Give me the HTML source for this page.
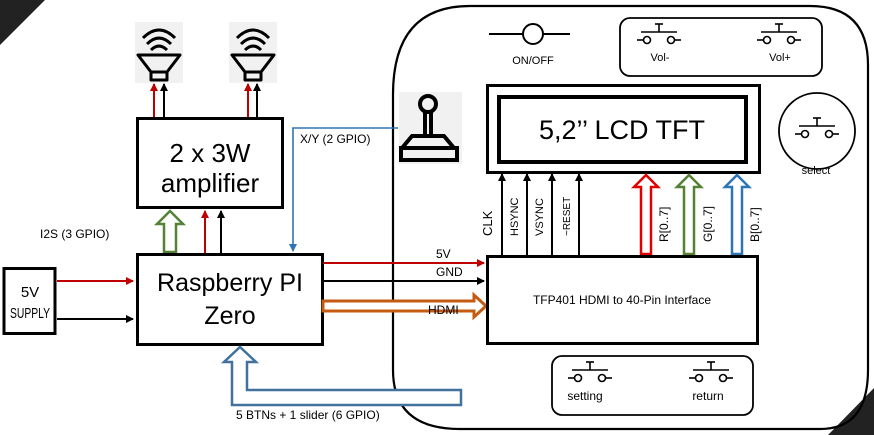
<!DOCTYPE html>
<html><head><meta charset="utf-8"><style>
html,body{margin:0;padding:0;background:#fff;width:874px;height:435px;overflow:hidden}
svg{display:block;font-family:"Liberation Sans",Arial,sans-serif}
</style></head><body>
<svg width="874" height="435" viewBox="0 0 874 435" xmlns="http://www.w3.org/2000/svg">
<defs>
<marker id="ak" markerWidth="8" markerHeight="8" refX="7" refY="4" orient="auto" markerUnits="userSpaceOnUse"><path d="M0,0 L8,4 L0,8 z" fill="#000"/></marker>
<marker id="ar" markerWidth="8" markerHeight="8" refX="7" refY="4" orient="auto" markerUnits="userSpaceOnUse"><path d="M0,0 L8,4 L0,8 z" fill="#c00000"/></marker>
<marker id="ab" markerWidth="8" markerHeight="8" refX="7" refY="4" orient="auto" markerUnits="userSpaceOnUse"><path d="M0,0 L8,4 L0,8 z" fill="#2e75b6"/></marker>
<g id="sw" fill="none" stroke="#000" stroke-width="1.6">
<line x1="-4" y1="0" x2="4" y2="0"/><line x1="0" y1="0" x2="0" y2="8"/><line x1="-18" y1="8" x2="18" y2="8"/>
<circle cx="-12" cy="16" r="3.5" fill="#fff"/><circle cx="12" cy="16" r="3.5" fill="#fff"/>
<line x1="-22" y1="16" x2="-15.5" y2="16"/><line x1="15.5" y1="16" x2="22" y2="16"/>
</g>
<g id="spk">
<rect x="0" y="0" width="48" height="61" fill="#f1f1f1"/>
<g fill="none" stroke="#000" stroke-width="3">
<path d="M8,16 Q24,0 40,16"/><path d="M12,22 Q24,10 36,22"/><path d="M16,28 Q24,20 32,28"/>
<path d="M3,33 L45,33 L32,50 L32,58 L16,58 L16,50 Z" stroke-linejoin="round"/>
<line x1="16" y1="50" x2="32" y2="50"/>
</g></g>
</defs>

<polygon points="0,0 45,0 0,45" fill="#222"/>
<polygon points="874,388 874,435 828,435" fill="#222"/>

<path d="M393,370 L393,95 Q393,6 470,6 L810,6 Q868,6 868,65 L868,370 Q868,429 820,429 L460,429 Q393,429 393,370 Z" fill="none" stroke="#000" stroke-width="2.2"/>

<use href="#spk" x="135" y="22"/>
<use href="#spk" x="229" y="22"/>
<line x1="154" y1="118" x2="154" y2="84" stroke="#c00000" stroke-width="2" marker-end="url(#ar)"/>
<line x1="164" y1="118" x2="164" y2="84" stroke="#000" stroke-width="2" marker-end="url(#ak)"/>
<line x1="248" y1="118" x2="248" y2="84" stroke="#c00000" stroke-width="2" marker-end="url(#ar)"/>
<line x1="257" y1="118" x2="257" y2="84" stroke="#000" stroke-width="2" marker-end="url(#ak)"/>

<rect x="137.5" y="118.5" width="145" height="89" fill="#fff" stroke="#000" stroke-width="3"/>
<text x="210" y="162" font-size="26" text-anchor="middle">2 x 3W</text>
<text x="210" y="192" font-size="26" text-anchor="middle">amplifier</text>

<polygon points="170,211 183,224 176,224 176,252 164,252 164,224 157,224" fill="#fff" stroke="#548235" stroke-width="2.5"/>
<line x1="205" y1="253" x2="205" y2="211" stroke="#c00000" stroke-width="2" marker-end="url(#ar)"/>
<line x1="221" y1="253" x2="221" y2="211" stroke="#000" stroke-width="2" marker-end="url(#ak)"/>
<text x="40" y="238" font-size="12">I2S (3 GPIO)</text>

<rect x="399" y="92" width="63" height="72" fill="#f1f1f1"/>
<g fill="none" stroke="#000" stroke-width="4">
<circle cx="428" cy="104" r="8"/>
<rect x="425" y="112" width="6" height="24"/>
<path d="M412,136 L444,136 L454,148 L402,148 Z" stroke-linejoin="round"/>
<rect x="401" y="148" width="56" height="12"/>
</g>
<polyline points="398,128 293,128 293,251" fill="none" stroke="#2e75b6" stroke-width="1.6" marker-end="url(#ab)"/>
<text x="300" y="143" font-size="12">X/Y (2 GPIO)</text>

<rect x="137.5" y="254.5" width="185" height="90" fill="#fff" stroke="#000" stroke-width="3"/>
<text x="230" y="291" font-size="25" text-anchor="middle">Raspberry PI</text>
<text x="230" y="324" font-size="25" text-anchor="middle">Zero</text>

<rect x="4" y="268.5" width="51" height="65" fill="#fff" stroke="#000" stroke-width="3"/>
<text x="30" y="297" font-size="15" text-anchor="middle">5V</text>
<text x="30" y="318" font-size="15" text-anchor="middle" textLength="40" lengthAdjust="spacingAndGlyphs">SUPPLY</text>
<line x1="57" y1="281" x2="133" y2="281" stroke="#c00000" stroke-width="2" marker-end="url(#ar)"/>
<line x1="57" y1="319" x2="133" y2="319" stroke="#000" stroke-width="2" marker-end="url(#ak)"/>

<line x1="323" y1="263" x2="484" y2="263" stroke="#c00000" stroke-width="2" marker-end="url(#ar)"/>
<line x1="323" y1="281" x2="484" y2="281" stroke="#000" stroke-width="2" marker-end="url(#ak)"/>
<polygon points="323,301 474,301 474,295 486,306 474,317 474,311 323,311" fill="#fff" stroke="#c55a11" stroke-width="3"/>
<text x="436" y="258" font-size="12">5V</text>
<text x="436" y="276" font-size="12">GND</text>
<text x="428" y="314" font-size="12">HDMI</text>

<g stroke="#000" stroke-width="2" fill="none">
<line x1="489" y1="34" x2="523" y2="34"/><circle cx="533" cy="34" r="10"/><line x1="543" y1="34" x2="570" y2="34"/>
</g>
<text x="533" y="64" font-size="11" text-anchor="middle">ON/OFF</text>

<rect x="620" y="18" width="202" height="58" rx="10" fill="none" stroke="#000" stroke-width="1.8"/>
<use href="#sw" x="659" y="24"/>
<use href="#sw" x="779" y="24"/>
<text x="660" y="61" font-size="11" text-anchor="middle">Vol-</text>
<text x="780" y="61" font-size="11" text-anchor="middle">Vol+</text>

<rect x="487.5" y="85.5" width="272" height="87" fill="#fff" stroke="#000" stroke-width="3"/>
<rect x="499" y="97" width="247" height="65" fill="#fff" stroke="#000" stroke-width="4"/>
<text x="622" y="139" font-size="27" text-anchor="middle">5,2’’ LCD TFT</text>

<circle cx="817" cy="131" r="38" fill="none" stroke="#000" stroke-width="1.8"/>
<use href="#sw" x="817" y="118"/>
<text x="816" y="174" font-size="11" text-anchor="middle">select</text>

<g stroke="#000" stroke-width="2">
<line x1="502" y1="256" x2="502" y2="174" marker-end="url(#ak)"/>
<line x1="527" y1="256" x2="527" y2="174" marker-end="url(#ak)"/>
<line x1="552" y1="256" x2="552" y2="174" marker-end="url(#ak)"/>
<line x1="579" y1="256" x2="579" y2="174" marker-end="url(#ak)"/>
</g>
<g font-size="11">
<text transform="translate(492,236) rotate(-90)" font-size="13">CLK</text>
<text transform="translate(518,236) rotate(-90)">HSYNC</text>
<text transform="translate(543,236) rotate(-90)">VSYNC</text>
<text transform="translate(570,236) rotate(-90)" font-size="10">~RESET</text>
</g>

<polygon points="646,175 658,187 651,187 651,254 641,254 641,187 634,187" fill="#fff" stroke="#e00000" stroke-width="2.5"/>
<polygon points="689,175 701,187 694,187 694,254 684,254 684,187 677,187" fill="#fff" stroke="#548235" stroke-width="2.5"/>
<polygon points="737,175 749,187 742,187 742,254 732,254 732,187 725,187" fill="#fff" stroke="#2e75b6" stroke-width="2.5"/>
<g font-size="12">
<text transform="translate(668,242) rotate(-90)">R[0..7]</text>
<text transform="translate(712,242) rotate(-90)">G[0..7]</text>
<text transform="translate(759,242) rotate(-90)">B[0..7]</text>
</g>

<rect x="487.5" y="256.5" width="270" height="87" fill="#fff" stroke="#000" stroke-width="3"/>
<text x="622" y="304" font-size="12" text-anchor="middle">TFP401 HDMI to 40-Pin Interface</text>

<rect x="552" y="356" width="201" height="59" rx="10" fill="none" stroke="#000" stroke-width="1.8"/>
<use href="#sw" x="590" y="362"/>
<use href="#sw" x="711" y="362"/>
<text x="585" y="400" font-size="12" text-anchor="middle">setting</text>
<text x="708" y="400" font-size="12" text-anchor="middle">return</text>

<polygon points="240,347 256,362 247,362 247,390 461,390 461,405 232,405 232,362 224,362" fill="#fff" stroke="#41719c" stroke-width="2.5"/>
<text x="236" y="419" font-size="12">5 BTNs + 1 slider (6 GPIO)</text>
</svg>
</body></html>
